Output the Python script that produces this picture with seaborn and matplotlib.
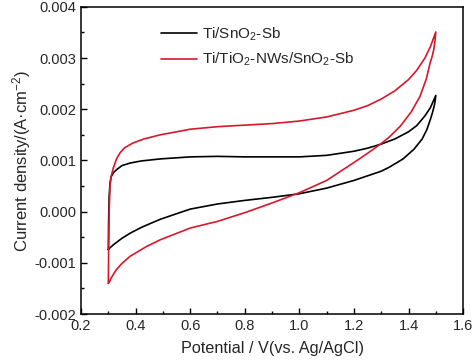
import numpy as np
import pandas as pd
import seaborn as sns
import matplotlib.pyplot as plt
from matplotlib.ticker import MultipleLocator, FormatStrFormatter

# Ti/SnO2-Sb, forward scan then reverse scan
sno2_fwd_x = [0.300, 0.301, 0.303, 0.306, 0.31, 0.32, 0.33, 0.35, 0.38, 0.42, 0.49, 0.60, 0.70,
              0.80, 0.90, 1.00, 1.10, 1.20, 1.25, 1.30, 1.35, 1.40, 1.43, 1.46, 1.48, 1.50]
sno2_fwd_y = [-0.00074, -0.0002, 0.0003, 0.00055, 0.00068, 0.00077, 0.00082, 0.0009, 0.00095,
              0.00099, 0.00103, 0.00107, 0.00108, 0.00107, 0.00107, 0.00107, 0.0011, 0.00118,
              0.00124, 0.00132, 0.00142, 0.00156, 0.00168, 0.00187, 0.00203, 0.00227]
sno2_rev_x = [1.50, 1.497, 1.493, 1.487, 1.48, 1.467, 1.45, 1.42, 1.38, 1.33, 1.30, 1.20, 1.10,
              1.00, 0.90, 0.80, 0.70, 0.60, 0.55, 0.49, 0.45, 0.42, 0.38, 0.35, 0.32, 0.305, 0.300]
sno2_rev_y = [0.00227, 0.00214, 0.00204, 0.00192, 0.0018, 0.0016, 0.00142, 0.00122, 0.00103,
              0.00087, 0.00079, 0.00061, 0.00046, 0.00035, 0.00028, 0.00022, 0.00015, 0.00005,
              -0.00004, -0.00015, -0.00024, -0.00031, -0.00042, -0.00052, -0.00064, -0.00071,
              -0.00074]

# Ti/TiO2-NWs/SnO2-Sb
nws_fwd_x = [0.300, 0.301, 0.303, 0.306, 0.31, 0.318, 0.33, 0.343, 0.36, 0.39, 0.43, 0.49, 0.60,
             0.70, 0.80, 0.90, 1.00, 1.10, 1.20, 1.25, 1.30, 1.35, 1.40, 1.43, 1.46, 1.48, 1.50]
nws_fwd_y = [-0.0014, -0.0008, 0.0, 0.0005, 0.00068, 0.00085, 0.00103, 0.00115, 0.00125, 0.00134,
             0.00142, 0.0015, 0.00161, 0.00166, 0.00169, 0.00172, 0.00177, 0.00185, 0.00198,
             0.00207, 0.0022, 0.00236, 0.00258, 0.00276, 0.003, 0.00322, 0.00351]
nws_rev_x = [1.50, 1.497, 1.493, 1.487, 1.479, 1.465, 1.442, 1.41, 1.37, 1.33, 1.30, 1.25, 1.20,
             1.10, 1.00, 0.95, 0.90, 0.80, 0.70, 0.60, 0.49, 0.44, 0.38, 0.35, 0.33, 0.32, 0.31,
             0.305, 0.300]
nws_rev_y = [0.00351, 0.00334, 0.00318, 0.00304, 0.0029, 0.00259, 0.00225, 0.00195, 0.00167,
             0.00146, 0.00133, 0.00114, 0.00096, 0.00061, 0.00037, 0.00027, 0.00017, -0.00002,
             -0.00019, -0.00032, -0.00055, -0.00068, -0.00087, -0.00101, -0.00113, -0.00121,
             -0.0013, -0.00136, -0.0014]

labels = ["Ti/SnO$_2$-Sb", "Ti/TiO$_2$-NWs/SnO$_2$-Sb"]
colors = ["#000000", "#d7182a"]

df = pd.concat([
    pd.DataFrame({"potential": sno2_fwd_x + sno2_rev_x,
                  "current": sno2_fwd_y + sno2_rev_y, "sample": labels[0]}),
    pd.DataFrame({"potential": nws_fwd_x + nws_rev_x,
                  "current": nws_fwd_y + nws_rev_y, "sample": labels[1]}),
], ignore_index=True)

sns.set_style("ticks")
plt.rcParams["font.family"] = ["Liberation Sans", "DejaVu Sans"]
plt.rcParams["mathtext.fontset"] = "custom"
plt.rcParams["mathtext.rm"] = "Liberation Sans"
plt.rcParams["mathtext.it"] = "Liberation Sans:italic"
plt.rcParams["axes.unicode_minus"] = False

fig = plt.figure(figsize=(4.74, 3.61), dpi=100)
ax = fig.add_axes([0.171, 0.130, 0.806, 0.851])

sns.lineplot(data=df, x="potential", y="current", hue="sample", palette=dict(zip(labels, colors)),
             sort=False, estimator=None, linewidth=1.2, legend=False, ax=ax)

ax.set_xlim(0.2, 1.6)
ax.set_ylim(-0.002, 0.004)
ax.xaxis.set_major_locator(MultipleLocator(0.2))
ax.xaxis.set_minor_locator(MultipleLocator(0.1))
ax.yaxis.set_major_locator(MultipleLocator(0.001))
ax.yaxis.set_minor_locator(MultipleLocator(0.0005))
ax.xaxis.set_major_formatter(FormatStrFormatter("%.1f"))
ax.yaxis.set_major_formatter(FormatStrFormatter("%.3f"))
ax.tick_params(which="both", direction="in", top=False, right=False, labelsize=10.5, color="black")
ax.tick_params(which="major", length=4, width=1)
ax.tick_params(which="minor", length=2.5, width=1)
for s in ax.spines.values():
    s.set_linewidth(1.1)
    s.set_color("black")

ax.set_xlabel("Potential / V(vs. Ag/AgCl)", fontsize=11.7, labelpad=6)
ax.set_ylabel("Current density/(A·cm$^{-2}$)", fontsize=12, labelpad=1)

handles = [plt.Line2D([], [], color=c, lw=1.2) for c in colors]
ax.legend(handles, labels, loc="upper left", bbox_to_anchor=(0.172, 0.985), frameon=False,
          fontsize=11, handlelength=2.4, handletextpad=0.3, labelspacing=0.55)

fig.savefig("out.png", dpi=100)
